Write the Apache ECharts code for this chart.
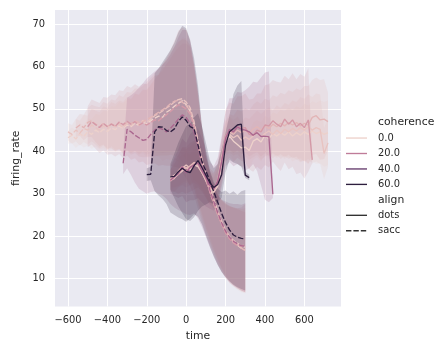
<!DOCTYPE html>
<html>
<head>
<meta charset="utf-8">
<script src="https://cdn.jsdelivr.net/npm/echarts@6/dist/echarts.min.js"></script>
<style>
  html, body { margin: 0; padding: 0; background: #ffffff; }
  #chart { width: 445px; height: 349px; }
</style>
</head>
<body>
<div id="chart"></div>
<script>
// Sample times (ms) for each alignment
const SACC_TIME = [
  -600, -580, -560, -540, -520, -500, -480, -460, -440, -420,
  -400, -380, -360, -340, -320, -300, -280, -260, -240, -220,
  -200, -180, -160, -140, -120, -100, -80, -60, -40, -20,
  0, 20, 40, 60, 80, 100, 120, 140, 160, 180,
  200, 220, 240, 260, 280, 300
];
const DOTS_TIME = [
  -80, -60, -40, -20, 0, 20, 40, 60, 80, 100,
  120, 140, 160, 180, 200, 220, 240, 260, 280, 300,
  320, 340, 360, 380, 400, 420, 440, 460, 480, 500,
  520, 540, 560, 580, 600, 620, 640, 660, 680, 700,
  720
];

const COHERENCE = [0, 3.2, 6.4, 12.8, 25.6, 51.2];
const ALIGN = ['dots', 'sacc'];
const LEGEND_COHERENCE = [0, 20, 40, 60];
const X_TICKS = [-600, -400, -200, 0, 200, 400, 600];
const Y_TICKS = [10, 20, 30, 40, 50, 60, 70];

// ---- sacc-aligned firing rate: mean and 95% CI ----
const SACC_MEAN_00 = [
  43.2, 43.8, 42.9, 44.2, 43.5, 44.6, 44.0, 45.0, 44.4, 45.2,
  44.7, 45.5, 45.1, 46.0, 45.4, 46.2, 45.8, 46.6, 46.1, 46.9,
  46.5, 47.2, 47.8, 48.3, 48.0, 49.2, 49.8, 50.6, 51.3, 51.9,
  51.0, 49.5, 46.0, 41.5, 37.5, 34.0, 31.0, 28.0, 25.2, 23.0,
  21.0, 19.6, 18.6, 17.9, 17.2, 16.8
];
const SACC_LO_00 = [
  41.8, 41.9, 40.8, 41.6, 40.9, 41.4, 40.6, 41.2, 40.5, 40.8,
  40.2, 40.6, 40.0, 40.6, 39.8, 40.2, 39.6, 40.0, 39.2, 39.6,
  38.8, 39.0, 39.0, 38.8, 37.8, 38.2, 38.0, 38.0, 37.6, 37.0,
  35.6, 34.0, 31.5, 28.0, 25.0, 22.0, 19.0, 16.0, 13.6, 11.8,
  10.2, 9.0, 8.2, 7.4, 6.8, 6.6
];
const SACC_HI_00 = [
  44.8, 45.6, 45.0, 46.6, 46.2, 47.8, 47.5, 48.8, 48.6, 49.6,
  49.4, 50.6, 50.5, 51.6, 51.2, 52.4, 52.2, 53.5, 53.2, 54.4,
  54.6, 55.8, 57.0, 58.4, 58.8, 60.6, 62.0, 63.6, 65.4, 66.8,
  66.6, 65.0, 59.0, 52.0, 45.0, 38.5, 34.5, 31.5, 29.5, 28.2,
  27.4, 27.0, 26.6, 26.4, 26.0, 26.2
];

const SACC_MEAN_03 = [
  44.6, 44.0, 45.0, 44.3, 45.4, 45.0, 46.2, 45.6, 45.0, 46.0,
  45.3, 46.4, 45.8, 46.3, 45.6, 46.6, 46.0, 46.9, 46.4, 47.3,
  46.8, 47.6, 48.4, 48.9, 49.5, 50.2, 50.8, 51.6, 52.2, 52.4,
  51.6, 50.3, 47.0, 42.5, 38.2, 34.6, 31.6, 28.8, 26.0, 23.5,
  21.4, 20.0, 19.0, 18.4, 17.7, 17.4
];
const SACC_LO_03 = [
  42.6, 41.8, 42.4, 41.4, 42.2, 41.6, 42.4, 41.6, 40.8, 41.4,
  40.4, 41.2, 40.4, 40.6, 39.6, 40.4, 39.6, 40.2, 39.4, 40.0,
  39.2, 39.6, 39.8, 39.8, 39.6, 39.8, 39.8, 40.0, 40.0, 39.4,
  37.8, 35.6, 32.5, 28.5, 25.5, 22.5, 19.8, 17.2, 14.8, 12.6,
  10.8, 9.6, 8.8, 8.2, 7.4, 7.0
];
const SACC_HI_03 = [
  46.6, 46.2, 47.6, 47.2, 48.6, 48.4, 50.0, 49.6, 49.2, 50.6,
  50.2, 51.6, 51.2, 52.0, 51.6, 52.8, 52.4, 53.6, 53.4, 54.6,
  54.4, 55.6, 57.0, 58.0, 59.4, 60.6, 61.8, 63.2, 64.4, 65.4,
  65.4, 64.6, 60.0, 53.0, 45.5, 39.0, 34.8, 32.0, 30.0, 28.6,
  27.8, 27.2, 26.8, 26.6, 26.4, 26.6
];

const SACC_MEAN_06 = [
  null, null, 45.5, 46.2, 45.6, 46.8, 47.2, 46.4, 45.8, 46.6,
  45.9, 46.5, 46.0, 46.8, 46.1, 47.0, 46.5, 47.2, 46.8, 47.0,
  47.5, 48.0, 48.6, 49.2, 49.8, 50.4, 51.2, 51.8, 52.0, 51.6,
  50.8, 49.6, 46.4, 42.0, 37.6, 34.0, 30.8, 28.0, 25.4, 23.2,
  21.2, 19.8, 18.8, 18.0, 17.2, 16.6
];
const SACC_LO_06 = [
  null, null, 43.4, 43.6, 42.6, 43.4, 43.4, 42.2, 41.2, 41.6,
  40.6, 40.8, 40.0, 40.4, 39.4, 40.0, 39.2, 39.6, 38.8, 38.6,
  38.6, 38.6, 38.8, 39.0, 39.0, 39.0, 39.2, 39.0, 38.6, 37.6,
  36.0, 34.2, 31.2, 27.6, 24.4, 21.6, 19.0, 16.6, 14.4, 12.4,
  10.6, 9.4, 8.6, 7.8, 7.0, 6.7
];
const SACC_HI_06 = [
  null, null, 47.6, 48.8, 48.6, 50.2, 51.0, 50.6, 50.4, 51.6,
  51.2, 52.2, 52.0, 53.2, 52.8, 54.0, 53.8, 54.8, 54.8, 55.4,
  56.4, 57.4, 58.4, 59.4, 60.6, 61.8, 63.2, 64.6, 65.8, 66.4,
  66.2, 65.0, 60.2, 53.4, 45.8, 39.2, 35.0, 32.0, 29.8, 28.6,
  27.8, 27.2, 26.8, 26.4, 26.0, 25.6
];

const SACC_MEAN_12 = [
  null, null, null, null, null, 45.8, 47.0, 46.3, 45.6, 46.6,
  45.8, 46.4, 45.9, 46.9, 46.3, 47.1, 46.4, 47.0, 46.2, 46.7,
  46.2, 46.8, 47.4, 47.2, 48.0, 48.6, 49.4, 50.2, 51.0, 50.6,
  50.0, 48.8, 45.8, 41.4, 37.0, 33.4, 30.4, 27.6, 25.0, 22.8,
  20.8, 19.4, 18.4, 17.8, 17.6, 18.2
];
const SACC_LO_12 = [
  null, null, null, null, null, 41.0, 41.6, 40.6, 39.6, 40.2,
  39.2, 39.4, 38.8, 39.4, 38.4, 39.0, 38.0, 38.4, 37.4, 37.6,
  36.8, 37.0, 37.2, 36.6, 36.8, 36.6, 36.6, 36.4, 36.2, 35.0,
  33.6, 31.8, 29.6, 26.4, 23.4, 20.6, 18.2, 15.8, 13.6, 11.8,
  10.2, 9.0, 8.2, 7.6, 7.2, 6.8
];
const SACC_HI_12 = [
  null, null, null, null, null, 50.6, 52.2, 51.8, 51.4, 52.8,
  52.6, 53.4, 53.2, 54.4, 54.2, 55.4, 55.0, 55.8, 55.2, 56.0,
  55.8, 56.8, 57.8, 58.0, 60.4, 62.0, 63.8, 66.0, 68.4, 69.2,
  68.6, 66.4, 60.5, 54.0, 45.5, 39.0, 35.0, 32.2, 29.8, 28.4,
  27.6, 27.0, 26.8, 26.6, 26.8, 27.6
];

const SACC_MEAN_25 = [
  null, null, null, null, null, null, null, null, null, null,
  null, null, null, null, 37.2, 45.2, 44.6, 43.8, 43.2, 42.6,
  42.8, 44.0, 45.0, 45.6, 45.2, 44.6, 45.4, 46.4, 47.6, 48.6,
  48.0, 46.6, 44.6, 41.0, 37.2, 34.0, 31.0, 28.2, 25.6, 23.2,
  21.2, 19.8, 18.8, 18.2, 17.8, 17.6
];
const SACC_LO_25 = [
  null, null, null, null, null, null, null, null, null, null,
  null, null, null, null, 34.6, 36.0, 34.4, 32.6, 31.2, 30.6,
  30.0, 30.4, 30.6, 30.0, 29.6, 28.8, 27.6, 26.8, 26.2, 25.8,
  25.2, 25.0, 25.4, 24.2, 22.2, 19.8, 17.4, 15.2, 13.2, 11.6,
  10.2, 9.2, 8.4, 7.8, 7.2, 6.8
];
const SACC_HI_25 = [
  null, null, null, null, null, null, null, null, null, null,
  null, null, null, null, 39.8, 52.6, 53.2, 54.0, 55.0, 56.0,
  57.2, 58.0, 58.8, 59.6, 60.4, 61.4, 62.8, 64.6, 66.8, 68.6,
  68.6, 65.8, 60.5, 54.0, 45.5, 39.2, 35.0, 32.2, 29.6, 28.6,
  28.2, 27.8, 27.6, 27.6, 27.4, 27.8
];

const SACC_MEAN_51 = [
  null, null, null, null, null, null, null, null, null, null,
  null, null, null, null, null, null, null, null, null, null,
  34.5, 34.6, 44.6, 45.8, 45.7, 44.9, 44.6, 45.3, 47.0, 48.1,
  47.3, 45.8, 45.4, 41.5, 37.6, 35.4, 33.0, 30.5, 28.0, 25.4,
  23.2, 21.5, 20.3, 19.8, 19.5, 19.4
];
const SACC_LO_51 = [
  null, null, null, null, null, null, null, null, null, null,
  null, null, null, null, null, null, null, null, null, null,
  33.0, 33.2, 30.6, 29.6, 28.8, 27.6, 25.6, 25.0, 24.4, 24.0,
  23.4, 24.2, 25.2, 24.6, 22.8, 20.2, 17.6, 15.2, 13.2, 11.6,
  10.4, 9.4, 8.6, 8.0, 7.6, 7.2
];
const SACC_HI_51 = [
  null, null, null, null, null, null, null, null, null, null,
  null, null, null, null, null, null, null, null, null, null,
  36.0, 36.4, 58.4, 59.6, 61.0, 62.4, 63.8, 65.6, 68.0, 69.6,
  69.0, 66.2, 62.0, 55.5, 46.0, 40.2, 35.6, 32.8, 31.2, 30.4,
  30.8, 30.0, 30.6, 29.8, 30.6, 30.9
];

// ---- dots-aligned firing rate: mean and 95% CI ----
const DOTS_MEAN_00 = [
  33.0, 33.8, 34.6, 35.4, 36.2, 35.6, 36.8, 36.4, 35.0, 33.2,
  31.6, 30.4, 31.8, 37.0, 42.2, 43.6, 42.4, 41.6, 40.8, 41.0,
  40.2, 42.4, 43.0, 42.2, 43.8, 43.0, 44.2, 43.6, 44.4, 43.8,
  44.6, 43.6, 44.4, 43.8, 44.6, 44.0, 44.8, 44.2, 44.6, 44.0,
  44.4
];
const DOTS_LO_00 = [
  30.8, 31.4, 31.8, 32.2, 32.6, 32.0, 33.0, 32.4, 31.0, 29.4,
  27.8, 26.6, 28.0, 33.0, 38.2, 39.4, 38.0, 37.2, 36.4, 36.6,
  35.8, 38.0, 38.6, 37.6, 39.2, 38.2, 39.2, 38.4, 39.0, 38.2,
  38.8, 37.6, 38.2, 37.4, 38.0, 37.2, 37.8, 37.0, 37.2, 36.4,
  36.8
];
const DOTS_HI_00 = [
  35.2, 36.2, 37.4, 38.6, 39.8, 39.2, 40.6, 40.4, 39.0, 37.0,
  35.4, 34.2, 35.6, 41.0, 46.2, 47.8, 46.8, 46.0, 45.2, 45.4,
  44.6, 46.8, 47.4, 46.8, 48.4, 47.8, 49.2, 48.8, 49.8, 49.4,
  50.4, 49.6, 50.6, 50.2, 51.2, 50.8, 51.8, 51.4, 52.0, 51.6,
  52.0
];

const DOTS_MEAN_03 = [
  33.6, 34.4, 35.0, 36.0, 36.8, 36.0, 37.2, 36.6, 35.2, 33.0,
  31.0, 30.2, 32.4, 38.0, 43.0, 44.0, 43.2, 43.8, 42.6, 43.4,
  42.8, 43.6, 44.4, 43.4, 44.2, 44.8, 44.0, 45.0, 44.2, 45.2,
  44.6, 45.4, 44.8, 45.6, 45.0, 45.8, 45.0, 45.6, 45.2, 39.5,
  42.0
];
const DOTS_LO_03 = [
  31.4, 31.6, 31.8, 32.6, 33.0, 32.2, 33.2, 32.4, 31.2, 29.2,
  27.4, 26.6, 28.6, 34.0, 39.0, 39.8, 39.0, 39.4, 38.2, 38.8,
  38.0, 38.6, 39.2, 38.0, 38.8, 39.2, 38.4, 39.2, 38.2, 39.0,
  38.2, 38.8, 38.0, 38.4, 37.6, 38.2, 37.2, 37.6, 37.0, 33.5,
  36.4
];
const DOTS_HI_03 = [
  35.8, 37.2, 38.2, 39.4, 40.6, 39.8, 41.2, 40.8, 39.2, 36.8,
  34.6, 33.8, 36.2, 42.0, 47.0, 48.2, 47.4, 48.2, 47.0, 48.0,
  47.6, 48.6, 49.6, 48.8, 49.6, 50.4, 49.6, 50.8, 50.2, 51.4,
  51.0, 52.0, 51.6, 52.8, 52.4, 53.4, 52.8, 53.6, 53.4, 45.5,
  47.6
];

const DOTS_MEAN_06 = [
  33.4, 33.6, 35.4, 36.4, 36.0, 36.6, 37.4, 36.8, 35.0, 33.4,
  31.4, 31.0, 33.2, 38.6, 43.4, 44.6, 44.0, 45.0, 44.4, 45.0,
  44.2, 45.2, 45.8, 45.0, 46.0, 45.4, 46.4, 45.8, 46.6, 46.0,
  46.8, 46.2, 46.8, 46.0, 46.6, 46.2, 48.0, 48.4, 47.4, 47.6,
  47.0
];
const DOTS_LO_06 = [
  31.0, 30.5, 31.5, 32.0, 31.5, 32.0, 32.6, 32.0, 30.8, 29.4,
  27.6, 27.2, 29.4, 34.6, 39.6, 40.4, 39.6, 40.2, 39.4, 39.8,
  38.8, 39.4, 39.8, 38.8, 39.6, 38.8, 39.6, 38.8, 39.4, 38.6,
  39.2, 38.4, 38.8, 37.6, 37.8, 37.0, 39.2, 39.4, 38.0, 38.2,
  40.2
];
const DOTS_HI_06 = [
  35.8, 36.8, 39.4, 40.8, 40.6, 41.2, 42.2, 41.6, 39.2, 37.4,
  35.2, 34.8, 37.0, 42.6, 47.2, 48.8, 48.4, 49.8, 49.4, 50.2,
  49.6, 51.0, 51.8, 51.2, 52.4, 52.0, 53.2, 52.8, 53.8, 53.4,
  54.4, 54.0, 54.8, 54.4, 55.4, 55.4, 56.8, 57.4, 56.8, 57.0,
  53.8
];

const DOTS_MEAN_12 = [
  33.0, 34.2, 34.6, 35.8, 35.4, 36.2, 36.8, 37.6, 35.8, 33.8,
  31.8, 30.8, 32.6, 37.8, 43.6, 45.0, 44.4, 45.8, 45.4, 45.6,
  44.0, 43.8, 45.0, 44.6, 46.2, 46.0, 47.2, 46.4, 45.8, 47.6,
  46.4, 47.4, 45.8, 46.6, 45.6, 47.4, 38.0, null, null, null,
  null
];
const DOTS_LO_12 = [
  30.5, 30.5, 30.0, 30.5, 30.0, 30.5, 31.0, 31.5, 30.5, 29.0,
  27.5, 26.5, 28.0, 32.5, 37.5, 38.5, 37.5, 38.5, 37.8, 37.5,
  35.8, 35.2, 36.4, 35.6, 36.8, 36.2, 37.6, 36.4, 35.4, 37.4,
  35.8, 36.4, 34.6, 35.0, 33.6, 35.2, 37.2, null, null, null,
  null
];
const DOTS_HI_12 = [
  35.5, 38.0, 39.0, 41.0, 41.0, 42.0, 42.5, 43.5, 41.0, 38.5,
  36.0, 35.0, 37.0, 43.0, 49.5, 51.5, 51.2, 53.0, 53.0, 53.6,
  52.2, 52.4, 53.6, 53.6, 55.6, 55.8, 56.8, 56.4, 56.2, 57.8,
  57.0, 58.4, 57.0, 58.2, 57.6, 59.6, 38.8, null, null, null,
  null
];

const DOTS_MEAN_25 = [
  33.2, 34.0, 34.8, 36.4, 35.0, 36.2, 36.8, 37.2, 35.4, 33.8,
  32.0, 31.2, 33.0, 37.5, 43.0, 45.2, 44.6, 45.8, 45.2, 45.0,
  44.6, 43.8, 44.4, 43.5, 43.6, 43.4, 29.9, null, null, null,
  null, null, null, null, null, null, null, null, null, null,
  null
];
const DOTS_LO_25 = [
  30.0, 29.5, 29.0, 29.5, 28.0, 28.5, 28.5, 29.0, 28.0, 27.0,
  26.5, 26.0, 27.5, 31.5, 36.5, 37.5, 36.5, 37.0, 36.5, 35.5,
  36.0, 37.0, 35.4, 32.0, 28.6, 28.0, 29.0, null, null, null,
  null, null, null, null, null, null, null, null, null, null,
  null
];
const DOTS_HI_25 = [
  36.5, 38.5, 40.5, 43.0, 42.0, 44.0, 45.0, 45.5, 43.0, 40.5,
  37.5, 36.5, 38.5, 43.5, 49.5, 52.5, 52.5, 54.0, 53.8, 54.4,
  55.2, 56.4, 56.2, 57.4, 58.6, 58.8, 30.8, null, null, null,
  null, null, null, null, null, null, null, null, null, null,
  null
];

const DOTS_MEAN_51 = [
  34.0, 34.1, 35.2, 36.0, 35.3, 35.0, 36.6, 37.8, 36.2, 34.4,
  32.6, 31.5, 32.2, 34.5, 41.5, 44.6, 45.4, 46.2, 46.4, 34.4,
  33.8, null, null, null, null, null, null, null, null, null,
  null, null, null, null, null, null, null, null, null, null,
  null
];
const DOTS_LO_51 = [
  31.0, 29.0, 27.0, 25.5, 24.0, 23.6, 24.5, 26.0, 27.0, 27.5,
  28.0, 27.5, 28.0, 29.0, 35.0, 38.0, 37.4, 37.0, 36.4, 33.7,
  33.2, null, null, null, null, null, null, null, null, null,
  null, null, null, null, null, null, null, null, null, null,
  null
];
const DOTS_HI_51 = [
  37.0, 39.5, 42.0, 44.0, 46.0, 46.5, 48.0, 49.0, 46.0, 42.0,
  38.0, 36.0, 37.0, 40.5, 44.5, 48.5, 53.5, 55.5, 56.6, 35.2,
  34.5, null, null, null, null, null, null, null, null, null,
  null, null, null, null, null, null, null, null, null, null,
  null
];

// Grouped per alignment, in coherence order
const GROUPS = {
  dots: {
    time: DOTS_TIME,
    mean: [DOTS_MEAN_00, DOTS_MEAN_03, DOTS_MEAN_06, DOTS_MEAN_12, DOTS_MEAN_25, DOTS_MEAN_51],
    lo:   [DOTS_LO_00, DOTS_LO_03, DOTS_LO_06, DOTS_LO_12, DOTS_LO_25, DOTS_LO_51],
    hi:   [DOTS_HI_00, DOTS_HI_03, DOTS_HI_06, DOTS_HI_12, DOTS_HI_25, DOTS_HI_51]
  },
  sacc: {
    time: SACC_TIME,
    mean: [SACC_MEAN_00, SACC_MEAN_03, SACC_MEAN_06, SACC_MEAN_12, SACC_MEAN_25, SACC_MEAN_51],
    lo:   [SACC_LO_00, SACC_LO_03, SACC_LO_06, SACC_LO_12, SACC_LO_25, SACC_LO_51],
    hi:   [SACC_HI_00, SACC_HI_03, SACC_HI_06, SACC_HI_12, SACC_HI_25, SACC_HI_51]
  }
};

// seaborn's default sequential palette ("ch:"): cubehelix, light .85 -> dark .15
function cubehelixRGB(t) {
  const light = 0.85, dark = 0.15, start = 0, rot = 0.4, hue = 0.8, gamma = 1;
  const u = Math.min(1, Math.max(0, t));
  const x = light + (dark - light) * u;
  const xg = Math.pow(x, gamma);
  const a = hue * xg * (1 - xg) / 2;
  const phi = 2 * Math.PI * (start / 3 + rot * x);
  const c = Math.cos(phi), s = Math.sin(phi);
  const ch = v => Math.round(Math.min(1, Math.max(0, v)) * 255);
  return [
    ch(xg + a * (-0.14861 * c + 1.78277 * s)),
    ch(xg + a * (-0.29227 * c - 0.90649 * s)),
    ch(xg + a * (1.97294 * c))
  ];
}
const COH_MIN = Math.min(...COHERENCE);
const COH_MAX = Math.max(...COHERENCE);
const hueRGB = v => cubehelixRGB((v - COH_MIN) / (COH_MAX - COH_MIN));
const rgba = (c, a) => 'rgba(' + c[0] + ',' + c[1] + ',' + c[2] + ',' + a + ')';

const FONT = 'DejaVu Sans';
const TEXT_COLOR = '#262626';
const LINE_W = 1.35;
const DASH = [5.4, 2];
const BAND_ALPHA = 0.2;

// Confidence band: one filled polygon (upper edge forward, lower edge back)
function makeBand(rows, fill) {
  return {
    type: 'custom', silent: true, z: 1, clip: true,
    data: rows,
    encode: { x: 0, y: [1, 2] },
    renderItem: function (params, api) {
      if (params.dataIndex !== 0) return null;
      const upper = rows.map(r => api.coord([r[0], r[2]]));
      const lower = rows.map(r => api.coord([r[0], r[1]])).reverse();
      return {
        type: 'polygon',
        shape: { points: upper.concat(lower) },
        style: { fill: fill, stroke: null }
      };
    }
  };
}

// Bands first (underneath), then mean lines, in hue x align order
const bandSeries = [];
const lineSeries = [];
COHERENCE.forEach((coh, k) => {
  ALIGN.forEach(al => {
    const g = GROUPS[al];
    const mean = g.mean[k], lo = g.lo[k], hi = g.hi[k];
    const rgb = hueRGB(coh);
    const idx = g.time.map((_, i) => i).filter(i => mean[i] != null);
    bandSeries.push(makeBand(idx.map(i => [g.time[i], lo[i], hi[i]]), rgba(rgb, BAND_ALPHA)));
    lineSeries.push({
      type: 'line', silent: true, z: 3, symbol: 'none',
      lineStyle: { color: rgba(rgb, 1), width: LINE_W, type: al === 'sacc' ? DASH : 'solid' },
      data: idx.map(i => [g.time[i], mean[i]])
    });
  });
});

// Legend drawn beside the plot
const LEG_X_LINE0 = 346, LEG_X_LINE1 = 367, LEG_X_TEXT = 378;
const LEG_Y0 = 122.6, LEG_DY = 15.45;
const legendRows = [];
legendRows.push({ title: 'coherence' });
LEGEND_COHERENCE.forEach(v => legendRows.push({ label: v.toFixed(1), color: rgba(hueRGB(v), 1), dash: null }));
legendRows.push({ title: 'align' });
ALIGN.forEach(a => legendRows.push({ label: a, color: '#333333', dash: a === 'sacc' ? DASH : null }));

const graphics = [];
legendRows.forEach((row, i) => {
  const y = LEG_Y0 + LEG_DY * i;
  if (row.title) {
    graphics.push({ type: 'text', silent: true, style: {
      text: row.title, x: LEG_X_TEXT, y: y, fill: TEXT_COLOR,
      font: '10.8px "' + FONT + '"', textAlign: 'left', textVerticalAlign: 'middle' } });
  } else {
    graphics.push({ type: 'line', silent: true,
      shape: { x1: LEG_X_LINE0, y1: y, x2: LEG_X_LINE1, y2: y },
      style: { stroke: row.color, lineWidth: LINE_W, lineDash: row.dash } });
    graphics.push({ type: 'text', silent: true, style: {
      text: row.label, x: LEG_X_TEXT, y: y, fill: TEXT_COLOR,
      font: '9.9px "' + FONT + '"', textAlign: 'left', textVerticalAlign: 'middle' } });
  }
});

const chart = echarts.init(document.getElementById('chart'), null, { renderer: 'canvas' });
chart.setOption({
  animation: false,
  backgroundColor: '#ffffff',
  textStyle: { fontFamily: FONT },
  grid: {
    left: 55, right: 104, top: 10, bottom: 42.5,
    show: true, backgroundColor: '#EAEAF2', borderWidth: 0
  },
  xAxis: {
    type: 'value', min: -666, max: 786,
    minInterval: 200, maxInterval: 200,
    name: 'time', nameLocation: 'middle', nameGap: 24,
    nameTextStyle: { color: TEXT_COLOR, fontSize: 10.8, fontFamily: FONT },
    axisLine: { show: false }, axisTick: { show: false },
    axisLabel: {
      color: TEXT_COLOR, fontSize: 9.9, fontFamily: FONT, margin: 9,
      showMinLabel: false, showMaxLabel: false,
      formatter: v => X_TICKS.includes(v) ? String(v).replace('-', '\u2212') : ''
    },
    splitLine: { show: true, showMinLine: false, showMaxLine: false,
      lineStyle: { color: '#ffffff', width: 1 } }
  },
  yAxis: {
    type: 'value', min: 3.45, max: 73.3,
    minInterval: 10, maxInterval: 10,
    name: 'firing_rate', nameLocation: 'middle', nameGap: 32,
    nameTextStyle: { color: TEXT_COLOR, fontSize: 10.8, fontFamily: FONT },
    axisLine: { show: false }, axisTick: { show: false },
    axisLabel: {
      color: TEXT_COLOR, fontSize: 9.9, fontFamily: FONT, margin: 10,
      showMinLabel: false, showMaxLabel: false,
      formatter: v => Y_TICKS.includes(v) ? String(v) : ''
    },
    splitLine: { show: true, showMinLine: false, showMaxLine: false,
      lineStyle: { color: '#ffffff', width: 1 } }
  },
  graphic: graphics,
  series: bandSeries.concat(lineSeries)
});
</script>
</body>
</html>
